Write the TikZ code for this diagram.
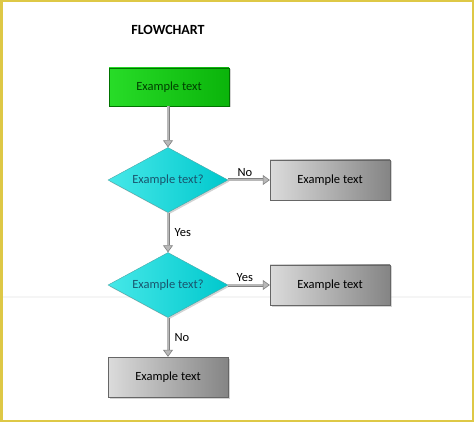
\documentclass[tikz,border=0pt]{standalone}
\usepackage{fontspec}
\setmainfont{Carlito}
\usetikzlibrary{shapes.geometric,arrows.meta,shadows}

\definecolor{frameyel}{RGB}{222,200,70}
\definecolor{startgrn}{RGB}{40,220,40}
\definecolor{startgrndk}{RGB}{10,180,10}
\definecolor{askcyan}{RGB}{70,232,232}
\definecolor{askcyandk}{RGB}{0,200,205}
\definecolor{asktext}{RGB}{25,85,110}

\begin{document}
\begin{tikzpicture}[x=1pt,y=-1pt,
  txt/.style={font=\fontsize{12.5}{14}\selectfont},
  shade/.style={drop shadow={opacity=.35,shadow xshift=1.5pt,shadow yshift=-1.5pt}},
  startbox/.style={txt,shade,draw=green!45!black,left color=startgrn,right color=startgrndk,
    text=green!25!black,minimum width=120pt,minimum height=38pt},
  endbox/.style={txt,shade,draw=black!60,left color=black!14,right color=black!48,
    minimum width=120pt,minimum height=40pt},
  ask/.style={txt,shade,diamond,aspect=1.85,draw=teal!70,left color=askcyan,right color=askcyandk,
    text=asktext,inner sep=0pt,minimum width=120pt,minimum height=65pt},
  flow/.style={draw=black!50,line width=.6pt,double=black!28,double distance=1.8pt,
    -{Triangle[length=7pt,width=10pt,fill=black!28]}},
  lbl/.style={txt}]

  % frame and faint band
  \draw[black!4,line width=1.5pt] (3,297) -- (471,297);
  \draw[frameyel,line width=2.5pt] (1.25,1.25) rectangle (472.75,420.75);

  \node[font=\bfseries\fontsize{14}{16}\selectfont] (title) at (168,30) {FLOWCHART};

  \node[startbox] (start) at (169,87) {Example text};
  \node[ask] (q1) at (168,180) {Example text?};
  \node[endbox] (r1) at (330,180) {Example text};
  \node[ask] (q2) at (168,285) {Example text?};
  \node[endbox] (r2) at (330,285) {Example text};
  \node[endbox] (r3) at (168,377) {Example text};

  \draw[flow] (start.south -| q1.north) -- (q1.north);
  \draw[flow] (q1.east) -- (r1.west) node[lbl,pos=.4,above] {No};
  \draw[flow] (q1.south) -- (q2.north) node[lbl,midway,right=3pt] {Yes};
  \draw[flow] (q2.east) -- (r2.west) node[lbl,pos=.4,above] {Yes};
  \draw[flow] (q2.south) -- (r3.north) node[lbl,midway,right=3pt] {No};
\end{tikzpicture}
\end{document}
